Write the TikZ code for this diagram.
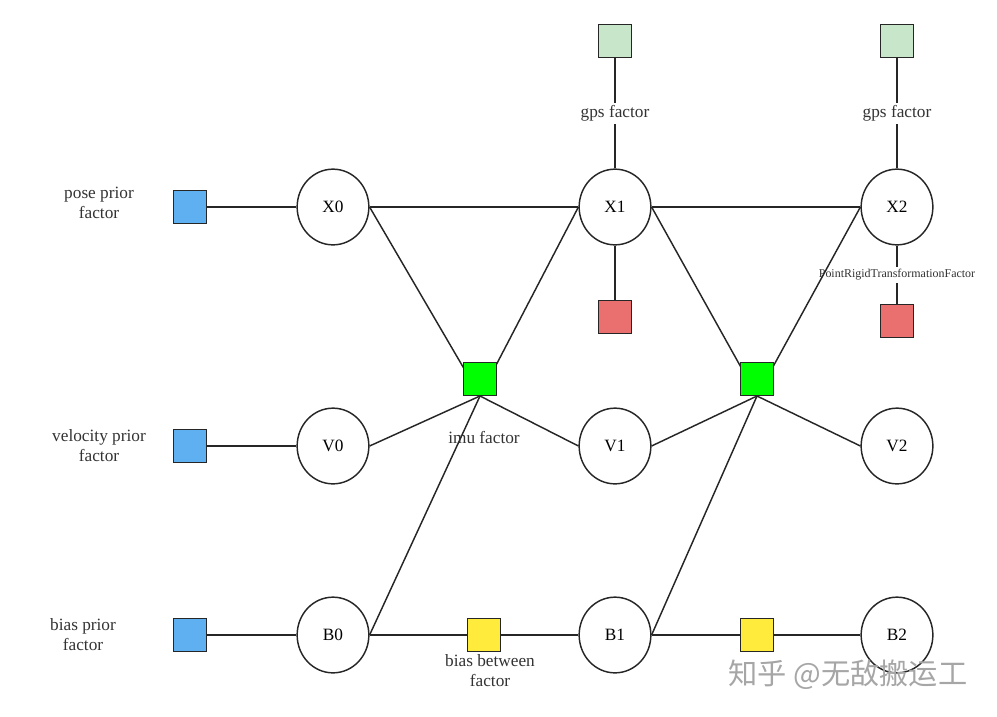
\documentclass[tikz,border=0pt]{standalone}
\usepackage{fontspec}
\setmainfont{Liberation Serif}
\newfontfamily\cjk{Noto Sans CJK SC}
\usetikzlibrary{positioning}
\usetikzlibrary{shapes.geometric}
\definecolor{priorblue}{HTML}{5FB0F0}
\definecolor{gpsgreen}{HTML}{C8E6C9}
\definecolor{pointred}{HTML}{EA7070}
\definecolor{imugreen}{HTML}{00FF00}
\definecolor{biasyellow}{HTML}{FFEB3B}
\tikzset{x=0.0264583cm, y=-0.0264583cm,
every picture/.style={font=\fontsize{13pt}{15pt}\selectfont, line width=1.1pt, draw=black!85},
var/.style={ % variable nodes
draw=black!85, ellipse, inner sep=0pt, minimum width=54pt, minimum height=57pt},
fac/.style={ % factor nodes
draw=black!85, rectangle, inner sep=0pt, minimum size=24.5pt},
lbl/.style={align=center, text=black!80}}
\begin{document}
\begin{tikzpicture}
  \useasboundingbox (0,0) rectangle (997,716);
  % variables
  \node[var] (X0) at (333,207) {X0};
  \node[var] (X1) at (615,207) {X1};
  \node[var] (X2) at (897,207) {X2};
  \node[var] (V0) at (333,446) {V0};
  \node[var] (V1) at (615,446) {V1};
  \node[var] (V2) at (897,446) {V2};
  \node[var] (B0) at (333,635) {B0};
  \node[var] (B1) at (615,635) {B1};
  \node[var] (B2) at (897,635) {B2};
  % factors
  \node[fac, fill=priorblue] (px) at (190,207) {};
  \node[fac, fill=priorblue] (pv) at (190,446) {};
  \node[fac, fill=priorblue] (pb) at (190,635) {};
  \node[fac, fill=gpsgreen] (g1) at (615,41) {};
  \node[fac, fill=gpsgreen] (g2) at (897,41) {};
  \node[fac, fill=pointred] (r1) at (615,317) {};
  \node[fac, fill=pointred] (r2) at (897,321) {};
  \node[fac, fill=imugreen] (i1) at (480,379) {};
  \node[fac, fill=imugreen] (i2) at (757,379) {};
  \node[fac, fill=biasyellow] (b1) at (484,635) {};
  \node[fac, fill=biasyellow] (b2) at (757,635) {};
  % edges
  \draw (px) -- (X0) -- (X1) -- (X2);
  \draw (pv) -- (V0);
  \draw (pb) -- (B0) -- (b1) -- (B1) -- (b2) -- (B2);
  \draw (X1) -- node[pos=0.5, fill=white, inner sep=2pt, lbl] {gps factor} (g1);
  \draw (X2) -- node[pos=0.5, fill=white, inner sep=2pt, lbl] {gps factor} (g2);
  \draw (X1) -- (r1);
  \draw (X2) -- node[pos=0.5, fill=white, inner sep=2pt, lbl, font=\fontsize{9pt}{11pt}\selectfont] {PointRigidTransformationFactor} (r2);
  \foreach \v in {X0.east, X1.west, V0.east, V1.west, B0.east} \draw (\v) -- (i1.south);
  \foreach \v in {X1.east, X2.west, V1.east, V2.west, B1.east} \draw (\v) -- (i2.south);
  \node[fac, fill=imugreen] at (i1) {};
  \node[fac, fill=imugreen] at (i2) {};
  % labels
  \node[lbl] (lx) at (99,203) {pose prior\\factor};
  \node[lbl] (lv) at (99,446) {velocity prior\\factor};
  \node[lbl] (lb) at (83,635) {bias prior\\factor};
  \node[lbl] (li) at (484,437) {imu factor};
  \node[lbl] (lbb) at (490,671) {bias between\\factor};
  \node[text=black!35, font=\cjk\fontsize{22pt}{24pt}\selectfont] (wm) at (848,675) {知乎 @无敌搬运工};
\end{tikzpicture}
\end{document}
